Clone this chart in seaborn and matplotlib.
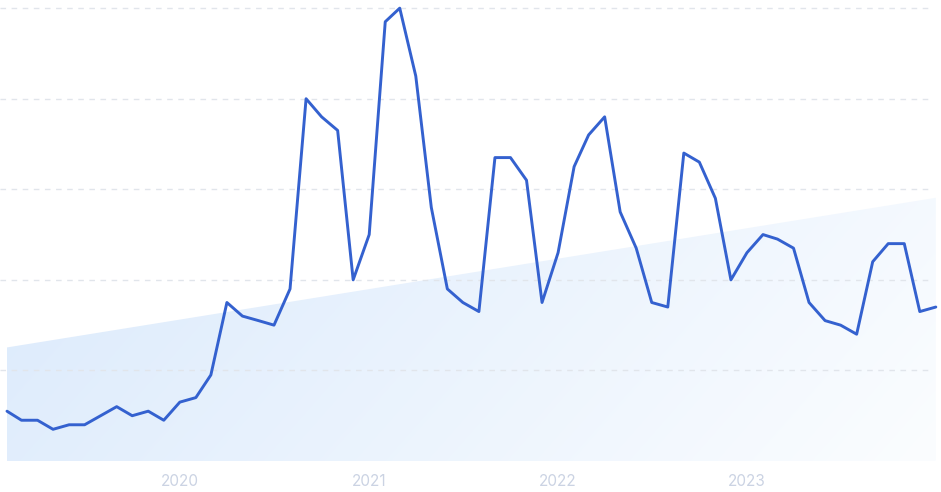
"""Monthly search interest with a shaded linear trend."""
import numpy as np
import pandas as pd
import matplotlib
matplotlib.use("Agg")
import matplotlib.pyplot as plt
import matplotlib.dates as mdates
from matplotlib.patches import Polygon
import seaborn as sns

# data (0-100 scale)
months = pd.date_range("2019-02-01", periods=60, freq="MS")
interest = [11, 9, 9, 7, 8, 8, 10, 12, 10, 11, 9, 13,
            14, 19, 35, 32, 31, 30, 38, 80, 76, 73, 40, 50,
            97, 100, 85, 56, 38, 35, 33, 67, 67, 62, 35, 46,
            65, 72, 76, 55, 47, 35, 34, 68, 66, 58, 40, 46,
            50, 49, 47, 35, 31, 30, 28, 44, 48, 48, 33, 34]
year_labels = ["2020", "2021", "2022", "2023"]
grid_values = [20, 40, 60, 80, 100]

LINE = "#3461cf"
FILL_START = np.array([219, 234, 252]) / 255
FILL_END = np.array([251, 253, 255]) / 255

sns.set_theme(style="white")
plt.rcParams["font.family"] = ["Inter", "DejaVu Sans"]

df = pd.DataFrame({"month": months, "interest": interest})

fig = plt.figure(figsize=(9.41, 4.92), dpi=100)
ax = fig.add_axes([0, 31 / 492, 1, 461 / 492])

# linear trend, shaded with a soft gradient underneath
xn = mdates.date2num(df["month"])
coef = np.polyfit(xn, df["interest"], 1)
trend = np.polyval(coef, xn)
top = trend.max()

gy, gx = np.mgrid[1:0:200j, 0:1:400j]
s = 1 - (0.8 * gx + 0.2 * (1 - gy))
img = FILL_END[None, None, :] * (1 - s[..., None]) + FILL_START[None, None, :] * s[..., None]
im = ax.imshow(img, extent=[xn[0], xn[-1], 0, top], aspect="auto", zorder=0,
               interpolation="bilinear")
poly = Polygon([(xn[0], 0), (xn[0], trend[0]), (xn[-1], trend[-1]), (xn[-1], 0)],
               closed=True, facecolor="none", edgecolor="none")
ax.add_patch(poly)
im.set_clip_path(poly)

sns.lineplot(data=df, x="month", y="interest", ax=ax, color=LINE,
             linewidth=2.1, zorder=3)

xmin, xmax = xn[0] - 13.5, xn[-1] + 10
ax.set_xlim(xmin, xmax)
ax.set_ylim(0, 101.8)

# dashed guides stop just short of the last point
ax.hlines(grid_values, xmin, xn[-1] - 11, colors="#e1e5eb",
          linestyles=[(0, (4, 4))], linewidth=1, zorder=1)
ax.set_yticks([])
ax.tick_params(axis="y", left=False, labelleft=False)

ax.set_xticks(mdates.date2num(pd.to_datetime([f"{y}-01-01" for y in year_labels])))
ax.set_xticklabels(year_labels)
ax.tick_params(axis="x", length=0, pad=9, labelsize=11, colors="#cbd3e3")
ax.set_xlabel("")
ax.set_ylabel("")
for sp in ax.spines.values():
    sp.set_visible(False)

fig.savefig("out.png", dpi=100)
